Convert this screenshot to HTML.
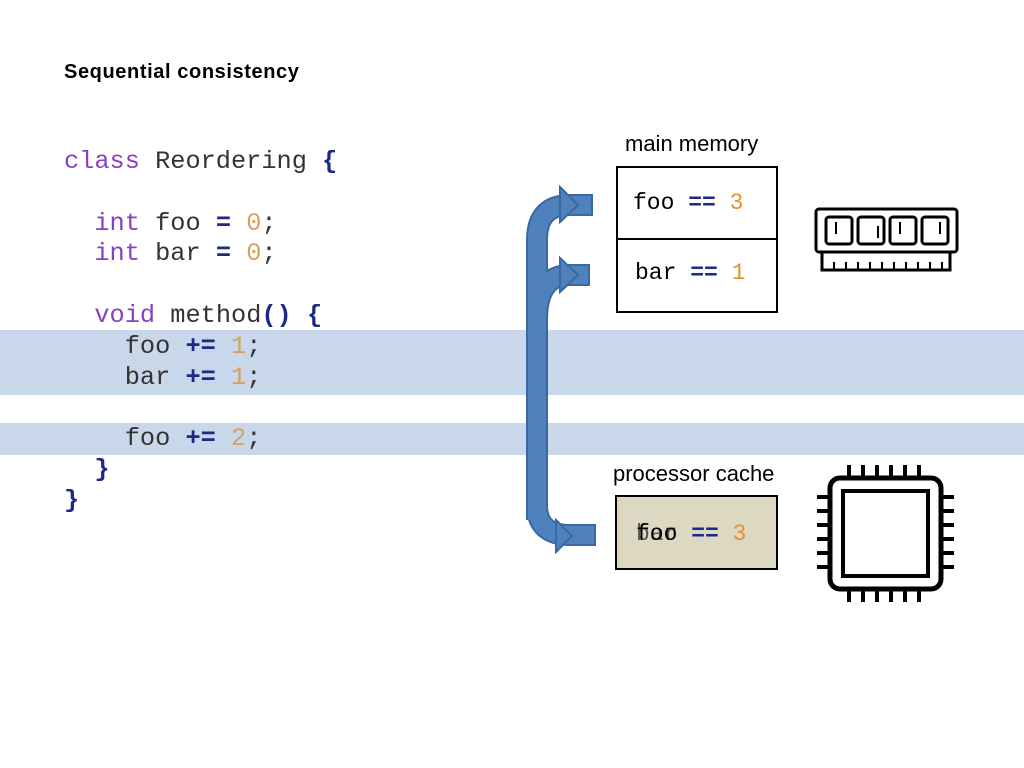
<!DOCTYPE html>
<html><head><meta charset="utf-8"><style>
body{margin:0;width:1024px;height:768px;background:#fff;position:relative;overflow:hidden;font-family:"Liberation Sans",sans-serif}
.band{position:absolute;left:0;width:1024px;background:#c9d7ea}
.code{position:absolute;left:64px;font-family:"Liberation Mono",monospace;font-size:25.3px;white-space:pre;color:#333;line-height:30.8px}
.k{color:#8a3fbf}.o{color:#1a2a8a;font-weight:bold}.n{color:#d7a060}
.t{position:absolute;font-size:22px;color:#000}
.m{position:absolute;font-family:"Liberation Mono",monospace;font-size:23px;white-space:pre}
</style></head><body>
<div style="position:absolute;left:64px;top:61px;font-size:20px;font-weight:bold;letter-spacing:0.6px">Sequential consistency</div>
<div class="band" style="top:330px;height:65px"></div>
<div class="band" style="top:423px;height:32px"></div>
<div class="code" style="top:147px"><span class="k">class</span> Reordering <span class="o">{</span>

  <span class="k">int</span> foo <span class="o">=</span> <span class="n">0</span>;
  <span class="k">int</span> bar <span class="o">=</span> <span class="n">0</span>;

  <span class="k">void</span> method<span class="o">()</span> <span class="o">{</span>
    foo <span class="o">+=</span> <span class="n">1</span>;
    bar <span class="o">+=</span> <span class="n">1</span>;

    foo <span class="o">+=</span> <span class="n">2</span>;
  <span class="o">}</span>
<span class="o">}</span></div>

<div class="t" style="left:625px;top:131px">main memory</div>
<div style="position:absolute;left:616px;top:166px;width:158px;height:143px;border:2px solid #000"></div>
<div style="position:absolute;left:616px;top:238px;width:162px;height:2px;background:#000"></div>
<div class="m" style="left:633px;top:190px">foo <span class="o">==</span> <span style="color:#e8902a">3</span></div>
<div class="m" style="left:635px;top:260px">bar <span class="o">==</span> <span style="color:#e8902a">1</span></div>

<div class="t" style="left:613px;top:461px">processor cache</div>
<div style="position:absolute;left:615px;top:495px;width:159px;height:71px;border:2px solid #000;background:#ddd8c2"></div>
<div class="m" style="left:636px;top:521px">foo <span class="o">==</span> <span style="color:#e8902a">3</span></div>
<div class="m" style="left:636px;top:521px;opacity:.6">bar</div>

<svg style="position:absolute;left:0;top:0" width="1024" height="768">
<g fill="none" stroke="#3a68a0" stroke-width="22">
<path d="M537,520 V240 Q537,205 570,205 H593"/>
<path d="M537,320 Q537,275 570,275 H590"/>
<path d="M537,480 V505 Q537,535 570,535 H596"/>
</g>
<g fill="none" stroke="#4f81bd" stroke-width="18">
<path d="M537,520 V240 Q537,205 570,205 H591"/>
<path d="M537,320 Q537,275 570,275 H588"/>
<path d="M537,480 V505 Q537,535 570,535 H594"/>
</g>
<g fill="#4f81bd" stroke="#3a68a0" stroke-width="2">
<polygon points="560,187 578,205 560,222"/>
<polygon points="560,258 578,275 560,292"/>
<polygon points="556,520 572,536 556,552"/>
</g>
<g fill="none" stroke="#000" stroke-width="3">
<rect x="816" y="209" width="141" height="43" rx="3"/>
<rect x="826" y="217" width="26" height="27" rx="3"/><rect x="858" y="217" width="26" height="27" rx="3"/>
<rect x="890" y="217" width="26" height="27" rx="3"/><rect x="922" y="217" width="26" height="27" rx="3"/>
<path d="M822,252 v18 h128 v-18"/>
<rect x="830" y="478" width="111" height="111" rx="10" stroke-width="5"/>
<rect x="843" y="491" width="85" height="85" stroke-width="4"/>
</g>
<g stroke="#000" stroke-width="2">
<path d="M834,262v8M846,262v8M858,262v8M870,262v8M882,262v8M894,262v8M906,262v8M918,262v8M930,262v8M942,262v8"/>
<path d="M836,222v12M878,226v12M900,222v12M940,222v12"/>
</g>
<g stroke="#000" stroke-width="4">
<path d="M849,465v13M863,465v13M877,465v13M891,465v13M905,465v13M919,465v13M849,589v13M863,589v13M877,589v13M891,589v13M905,589v13M919,589v13"/>
<path d="M817,497h13M817,511h13M817,525h13M817,539h13M817,553h13M817,567h13M941,497h13M941,511h13M941,525h13M941,539h13M941,553h13M941,567h13"/>
</g>
</svg>
</body></html>
